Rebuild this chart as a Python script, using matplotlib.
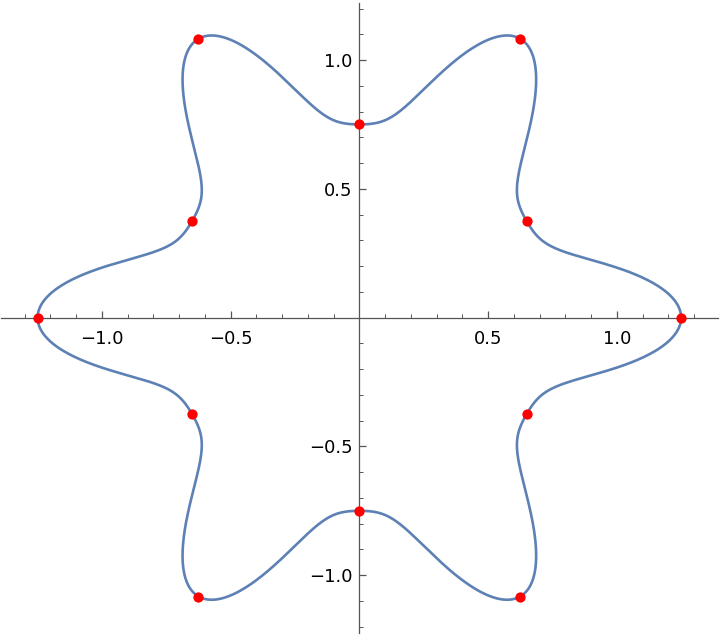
import numpy as np
import matplotlib
matplotlib.use("Agg")
import matplotlib.pyplot as plt

# marked points on the curve
pt_x = [1.25, 0.65, 0.625, 0.0, -0.625, -0.65, -1.25, -0.65, -0.625, 0.0, 0.625, 0.65]
pt_y = [0.0, 0.375, 1.083, 0.75, 1.083, 0.375, 0.0, -0.375, -1.083, -0.75, -1.083, -0.375]

# radius profile: r = c0 + c1*cos(6t) + c2*cos(12t)
r_coef = [0.95, 0.25, 0.05]

xticks = [-1.0, -0.5, 0.5, 1.0]
yticks = [-1.0, -0.5, 0.5, 1.0]

t = np.linspace(0, 2 * np.pi, 1500)
r = r_coef[0] + r_coef[1] * np.cos(6 * t) + r_coef[2] * np.cos(12 * t)

fig = plt.figure(figsize=(7.2, 6.36), dpi=100)
ax = fig.add_axes([0, 0, 1, 1])

ax.plot(r * np.cos(t), r * np.sin(t), color="#5e81b5", lw=1.9, zorder=2)
ax.plot(pt_x, pt_y, "o", color="red", ms=7.4, mec="none", zorder=3)

ax.set_xlim(-1.396, 1.401)
ax.set_ylim(-1.236, 1.233)
ax.set_aspect("auto")

axis_col = "#555555"
ax.spines["left"].set_position(("data", 0))
ax.spines["bottom"].set_position(("data", 0))
ax.spines["right"].set_visible(False)
ax.spines["top"].set_visible(False)
ax.spines["left"].set_bounds(-1.226, 1.222)
ax.spines["bottom"].set_bounds(-1.391, 1.395)
for s in ("left", "bottom"):
    ax.spines[s].set_color(axis_col)
    ax.spines[s].set_linewidth(0.9)

ax.set_xticks(xticks)
ax.set_yticks(yticks)
ax.set_xticklabels([f"{v:.1f}".replace("-", "\u2212") for v in xticks])
ax.set_yticklabels([f"{v:.1f}".replace("-", "\u2212") for v in yticks])
ax.set_xticks(np.arange(-1.3, 1.35, 0.1), minor=True)
ax.set_yticks(np.arange(-1.2, 1.25, 0.1), minor=True)
ax.tick_params(which="major", direction="in", length=5, width=0.9, color=axis_col,
               labelsize=13, labelcolor="black")
ax.tick_params(which="minor", direction="in", length=3, width=0.7, color=axis_col)
ax.tick_params(axis="x", which="major", pad=9)
ax.tick_params(axis="y", which="major", pad=5)

fig.savefig("out.png", dpi=100)
